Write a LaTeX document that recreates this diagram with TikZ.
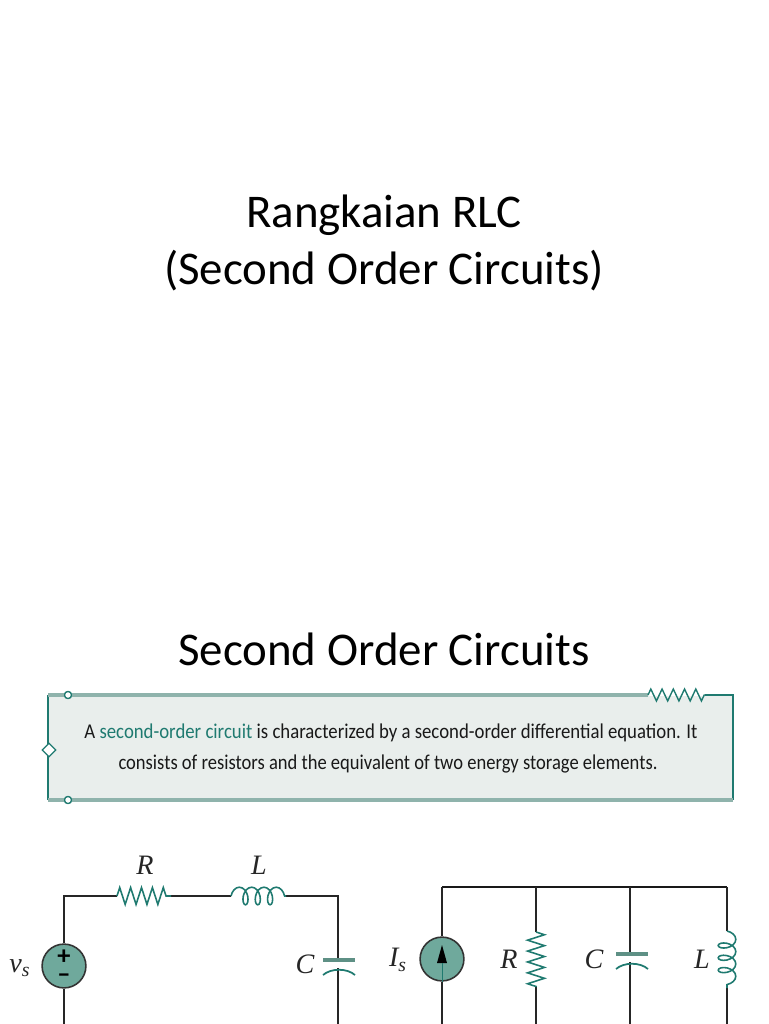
\documentclass[tikz,border=0pt]{standalone}
\usepackage{fontspec}
\setmainfont{Carlito}
\newfontfamily\labfont{Liberation Serif}
\usetikzlibrary{decorations.pathmorphing}
\definecolor{teal1}{HTML}{1F7A70}
\definecolor{tealfill}{HTML}{6FA99C}
\definecolor{boxfill}{HTML}{E9EEEC}
\definecolor{boxedge}{HTML}{8FB3AC}
\tikzset{
	wire/.style={line width=1.1pt, black!85},
	bus/.style={line width=1.5pt, black!90},
	res/.style={line width=0.9pt, teal1, decorate, decoration={zigzag, segment length=6.2pt, amplitude=4.8pt}},
	ind/.style={line width=0.9pt, teal1, decorate, decoration={coil, segment length=7pt, amplitude=5pt, aspect=0.6}},
	src/.style={circle, draw=black!80, line width=0.9pt, fill=tealfill, minimum size=44*0.567pt, inner sep=0pt},
	plate/.style={line width=2pt, tealfill!85!black},
	arcplate/.style={line width=1pt, teal1},
	lab/.style={font=\labfont\itshape\fontsize{16}{18}\selectfont, black!85},
	title/.style={font=\fontsize{26.7}{32}\selectfont, align=center, black},
	body/.style={font=\fontsize{12}{15}\selectfont, black!90},
	sign/.style={font=\bfseries\fontsize{15}{10}\selectfont, align=center, inner sep=0pt},
	term/.style={circle, draw=teal1, fill=white, line width=0.7pt, minimum size=4pt, inner sep=0pt}
}
\begin{document}
\begin{tikzpicture}[x=0.02cm, y=-0.02cm]
	\useasboundingbox (0,0) rectangle (768,1024);
	\node[title] (t1) at (384,215) {Rangkaian RLC};
	\node[title] (t2) at (384,271) {(Second Order Circuits)};
	\node[title] (t3) at (384,649) {Second Order Circuits};

	\fill[boxfill] (49,696) rectangle (733,800);
	\coordinate (tl) at (48,695);
	\coordinate (tr) at (733,695);
	\coordinate (bl) at (48,800);
	\coordinate (br) at (733,800);
	\coordinate (za) at (648,695);
	\coordinate (zb) at (705,695);
	\draw[line width=0.7pt, teal1] (zb) -- (tr) -- (br);
	\draw[line width=0.7pt, teal1] (tl) -- (bl);
	\node[draw=teal1, fill=white, line width=0.7pt, minimum size=5.5pt, inner sep=0pt, rotate=45] (dm) at (49,750) {};
	\node[term] (c1) at (68,695) {};
	\node[term] (c2) at (68,800) {};
	\draw[line width=2pt, boxedge] (tl) -- (c1) -- (za);
	\draw[line width=2pt, boxedge] (bl) -- (c2) -- (br);
	\node[term] at (c1) {};
	\node[term] at (c2) {};
	\draw[line width=0.8pt, teal1, decorate, decoration={zigzag, segment length=6.4pt, amplitude=3.4pt}] (za) -- (zb);
	\node[body] (b1) at (391,733) {\scalebox{0.89}[1]{A \textcolor{teal1}{second-order circuit} is characterized by a second-order differential equation. It}};
	\node[body] (b2) at (388,764) {\scalebox{0.88}[1]{consists of resistors and the equivalent of two energy storage elements.}};

	\node[src] (vs) at (64,966) {};
	\node[sign] (vp) at (64,966) {+\\–};
	\coordinate (a1) at (64,896);
	\coordinate (a2) at (117,896);
	\coordinate (a3) at (171,896);
	\coordinate (a4) at (231,896);
	\coordinate (a5) at (286,896);
	\coordinate (a6) at (338,896);
	\coordinate (a7) at (338,960);
	\coordinate (a8) at (338,968);
	\coordinate (a9) at (338,1024);
	\coordinate (a0) at (64,1024);
	\draw[wire] (vs) -- (a1) -- (a2);
	\draw[wire] (a3) -- (a4);
	\draw[wire] (a5) -- (a6) -- (a7);
	\draw[wire] (a8) -- (a9);
	\draw[wire] (vs) -- (a0);
	\draw[res] (a2) -- (a3);
	\draw[ind] (a4) -- (a5);
	\draw[plate] (323,960) -- (355,960);
	\draw[arcplate] (323,975) .. controls (331,968) and (347,968) .. (355,975);
	\node[lab] (r1) at (145,865) {R};
	\node[lab] (l1) at (259,865) {L};
	\node[lab] (c3) at (305,964) {C};
	\node[lab] (v1) at (20,968) {v\textsubscript{s}};

	\node[src] (is) at (442,959) {};
	\coordinate (i1) at (442,945);
	\coordinate (i2) at (442,963);
	\coordinate (i0) at (442,1024);
	\fill[black] (i1) -- (447,963) -- (437,963) -- cycle;
	\draw[line width=0.5pt, teal1] (i2) -- (is.south);
	\coordinate (b0) at (442,887);
	\coordinate (b3) at (536,887);
	\coordinate (b5) at (630,887);
	\coordinate (b7) at (727,887);
	\coordinate (r2) at (536,932);
	\coordinate (r3) at (536,987);
	\coordinate (r0) at (536,1024);
	\coordinate (c4) at (630,954);
	\coordinate (c5) at (630,962);
	\coordinate (c0) at (630,1024);
	\coordinate (l2) at (727,931);
	\coordinate (l3) at (727,988);
	\coordinate (l0) at (727,1024);
	\draw[bus] (b0) -- (b7);
	\draw[wire] (b0) -- (is);
	\draw[wire] (is) -- (i0);
	\draw[wire] (b3) -- (r2);
	\draw[wire] (r3) -- (r0);
	\draw[wire] (b5) -- (c4);
	\draw[wire] (c5) -- (c0);
	\draw[wire] (b7) -- (l2);
	\draw[wire] (l3) -- (l0);
	\draw[res] (r2) -- (r3);
	\draw[ind] (l2) -- (l3);
	\draw[plate] (616,954) -- (648,954);
	\draw[arcplate] (616,969) .. controls (624,962) and (640,962) .. (648,969);
	\node[lab] (i3) at (398,960) {I\textsubscript{s}};
	\node[lab] (r4) at (509,959) {R};
	\node[lab] (c6) at (594,959) {C};
	\node[lab] (l4) at (702,959) {L};
\end{tikzpicture}
\end{document}
